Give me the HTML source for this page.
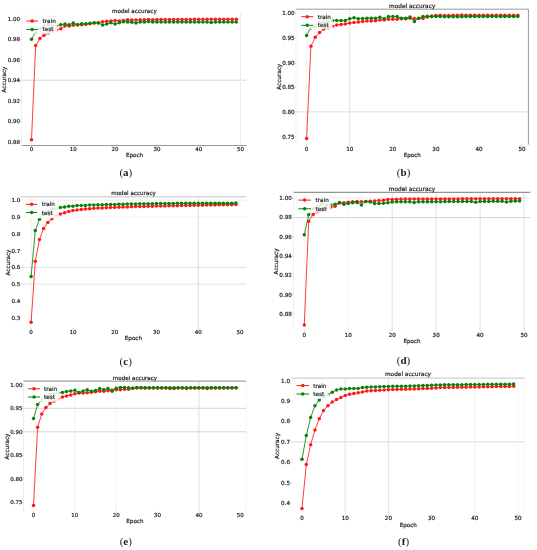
<!DOCTYPE html>
<html><head><meta charset="utf-8"><title>model accuracy</title>
<style>
html,body{margin:0;padding:0;background:#fff;}
body{width:537px;height:550px;overflow:hidden;}
svg{display:block;filter:blur(0.3px);}
.t{font-family:"DejaVu Sans","Liberation Sans",sans-serif;fill:#1c1c1c;stroke:#1c1c1c;stroke-width:0.2px;text-rendering:geometricPrecision;}
.c{font-family:"Liberation Serif",serif;fill:#1a1a1a;}
</style></head><body>
<svg width="537" height="550" viewBox="0 0 537 550">
<rect width="537" height="550" fill="#fff"/>
<line x1="21.60" y1="80.20" x2="246.60" y2="80.20" stroke="#d9d9d9" stroke-width="1.0"/>
<line x1="240.50" y1="13.20" x2="240.50" y2="145.50" stroke="#e6e6e6" stroke-width="0.8"/>
<line x1="21.60" y1="145.50" x2="246.60" y2="145.50" stroke="#9a9a9a" stroke-width="1.0"/>
<line x1="21.60" y1="13.20" x2="21.60" y2="145.50" stroke="#ececec" stroke-width="0.8"/>
<polyline points="31.50,139.65 35.68,45.45 39.86,38.58 44.04,35.20 48.22,33.05 52.40,31.00 56.58,29.98 60.76,28.64 64.94,25.98 69.12,25.88 73.30,25.36 77.48,24.85 81.66,24.85 85.84,24.34 90.02,23.83 94.20,23.11 98.38,22.80 102.56,21.67 106.74,21.37 110.92,21.06 115.10,20.44 119.28,20.95 123.46,20.44 127.64,19.83 131.82,20.03 136.00,20.03 140.18,19.83 144.36,19.83 148.54,19.52 152.72,19.83 156.90,19.62 161.08,19.42 165.26,19.41 169.44,19.41 173.62,19.40 177.80,19.39 181.98,19.39 186.16,19.38 190.34,19.38 194.52,19.37 198.70,19.37 202.88,19.36 207.06,19.35 211.24,19.35 215.42,19.34 219.60,19.34 223.78,19.33 227.96,19.33 232.14,19.32 236.32,19.32" fill="none" stroke="#ff1a1a" stroke-width="0.85"/>
<circle cx="31.50" cy="139.65" r="1.75" fill="#ff1a1a"/>
<circle cx="35.68" cy="45.45" r="1.75" fill="#ff1a1a"/>
<circle cx="39.86" cy="38.58" r="1.75" fill="#ff1a1a"/>
<circle cx="44.04" cy="35.20" r="1.75" fill="#ff1a1a"/>
<circle cx="48.22" cy="33.05" r="1.75" fill="#ff1a1a"/>
<circle cx="52.40" cy="31.00" r="1.75" fill="#ff1a1a"/>
<circle cx="56.58" cy="29.98" r="1.75" fill="#ff1a1a"/>
<circle cx="60.76" cy="28.64" r="1.75" fill="#ff1a1a"/>
<circle cx="64.94" cy="25.98" r="1.75" fill="#ff1a1a"/>
<circle cx="69.12" cy="25.88" r="1.75" fill="#ff1a1a"/>
<circle cx="73.30" cy="25.36" r="1.75" fill="#ff1a1a"/>
<circle cx="77.48" cy="24.85" r="1.75" fill="#ff1a1a"/>
<circle cx="81.66" cy="24.85" r="1.75" fill="#ff1a1a"/>
<circle cx="85.84" cy="24.34" r="1.75" fill="#ff1a1a"/>
<circle cx="90.02" cy="23.83" r="1.75" fill="#ff1a1a"/>
<circle cx="94.20" cy="23.11" r="1.75" fill="#ff1a1a"/>
<circle cx="98.38" cy="22.80" r="1.75" fill="#ff1a1a"/>
<circle cx="102.56" cy="21.67" r="1.75" fill="#ff1a1a"/>
<circle cx="106.74" cy="21.37" r="1.75" fill="#ff1a1a"/>
<circle cx="110.92" cy="21.06" r="1.75" fill="#ff1a1a"/>
<circle cx="115.10" cy="20.44" r="1.75" fill="#ff1a1a"/>
<circle cx="119.28" cy="20.95" r="1.75" fill="#ff1a1a"/>
<circle cx="123.46" cy="20.44" r="1.75" fill="#ff1a1a"/>
<circle cx="127.64" cy="19.83" r="1.75" fill="#ff1a1a"/>
<circle cx="131.82" cy="20.03" r="1.75" fill="#ff1a1a"/>
<circle cx="136.00" cy="20.03" r="1.75" fill="#ff1a1a"/>
<circle cx="140.18" cy="19.83" r="1.75" fill="#ff1a1a"/>
<circle cx="144.36" cy="19.83" r="1.75" fill="#ff1a1a"/>
<circle cx="148.54" cy="19.52" r="1.75" fill="#ff1a1a"/>
<circle cx="152.72" cy="19.83" r="1.75" fill="#ff1a1a"/>
<circle cx="156.90" cy="19.62" r="1.75" fill="#ff1a1a"/>
<circle cx="161.08" cy="19.42" r="1.75" fill="#ff1a1a"/>
<circle cx="165.26" cy="19.41" r="1.75" fill="#ff1a1a"/>
<circle cx="169.44" cy="19.41" r="1.75" fill="#ff1a1a"/>
<circle cx="173.62" cy="19.40" r="1.75" fill="#ff1a1a"/>
<circle cx="177.80" cy="19.39" r="1.75" fill="#ff1a1a"/>
<circle cx="181.98" cy="19.39" r="1.75" fill="#ff1a1a"/>
<circle cx="186.16" cy="19.38" r="1.75" fill="#ff1a1a"/>
<circle cx="190.34" cy="19.38" r="1.75" fill="#ff1a1a"/>
<circle cx="194.52" cy="19.37" r="1.75" fill="#ff1a1a"/>
<circle cx="198.70" cy="19.37" r="1.75" fill="#ff1a1a"/>
<circle cx="202.88" cy="19.36" r="1.75" fill="#ff1a1a"/>
<circle cx="207.06" cy="19.35" r="1.75" fill="#ff1a1a"/>
<circle cx="211.24" cy="19.35" r="1.75" fill="#ff1a1a"/>
<circle cx="215.42" cy="19.34" r="1.75" fill="#ff1a1a"/>
<circle cx="219.60" cy="19.34" r="1.75" fill="#ff1a1a"/>
<circle cx="223.78" cy="19.33" r="1.75" fill="#ff1a1a"/>
<circle cx="227.96" cy="19.33" r="1.75" fill="#ff1a1a"/>
<circle cx="232.14" cy="19.32" r="1.75" fill="#ff1a1a"/>
<circle cx="236.32" cy="19.32" r="1.75" fill="#ff1a1a"/>
<polyline points="31.50,39.20 35.68,32.23 39.86,28.95 44.04,25.67 48.22,24.95 52.40,25.36 56.58,25.88 60.76,24.85 64.94,24.03 69.12,24.65 73.30,23.11 77.48,24.65 81.66,23.83 85.84,23.83 90.02,23.31 94.20,22.80 98.38,23.00 102.56,24.95 106.74,24.03 110.92,22.70 115.10,24.03 119.28,22.70 123.46,21.67 127.64,21.88 131.82,22.18 136.00,23.11 140.18,21.88 144.36,21.88 148.54,21.57 152.72,21.88 156.90,21.88 161.08,21.89 165.26,21.89 169.44,21.90 173.62,21.91 177.80,21.92 181.98,21.93 186.16,21.94 190.34,21.95 194.52,21.95 198.70,21.96 202.88,21.97 207.06,21.98 211.24,22.60 215.42,21.98 219.60,21.98 223.78,21.98 227.96,21.98 232.14,21.98 236.32,21.98" fill="none" stroke="#0a800a" stroke-width="0.85"/>
<circle cx="31.50" cy="39.20" r="1.75" fill="#0a800a"/>
<circle cx="35.68" cy="32.23" r="1.75" fill="#0a800a"/>
<circle cx="39.86" cy="28.95" r="1.75" fill="#0a800a"/>
<circle cx="44.04" cy="25.67" r="1.75" fill="#0a800a"/>
<circle cx="48.22" cy="24.95" r="1.75" fill="#0a800a"/>
<circle cx="52.40" cy="25.36" r="1.75" fill="#0a800a"/>
<circle cx="56.58" cy="25.88" r="1.75" fill="#0a800a"/>
<circle cx="60.76" cy="24.85" r="1.75" fill="#0a800a"/>
<circle cx="64.94" cy="24.03" r="1.75" fill="#0a800a"/>
<circle cx="69.12" cy="24.65" r="1.75" fill="#0a800a"/>
<circle cx="73.30" cy="23.11" r="1.75" fill="#0a800a"/>
<circle cx="77.48" cy="24.65" r="1.75" fill="#0a800a"/>
<circle cx="81.66" cy="23.83" r="1.75" fill="#0a800a"/>
<circle cx="85.84" cy="23.83" r="1.75" fill="#0a800a"/>
<circle cx="90.02" cy="23.31" r="1.75" fill="#0a800a"/>
<circle cx="94.20" cy="22.80" r="1.75" fill="#0a800a"/>
<circle cx="98.38" cy="23.00" r="1.75" fill="#0a800a"/>
<circle cx="102.56" cy="24.95" r="1.75" fill="#0a800a"/>
<circle cx="106.74" cy="24.03" r="1.75" fill="#0a800a"/>
<circle cx="110.92" cy="22.70" r="1.75" fill="#0a800a"/>
<circle cx="115.10" cy="24.03" r="1.75" fill="#0a800a"/>
<circle cx="119.28" cy="22.70" r="1.75" fill="#0a800a"/>
<circle cx="123.46" cy="21.67" r="1.75" fill="#0a800a"/>
<circle cx="127.64" cy="21.88" r="1.75" fill="#0a800a"/>
<circle cx="131.82" cy="22.18" r="1.75" fill="#0a800a"/>
<circle cx="136.00" cy="23.11" r="1.75" fill="#0a800a"/>
<circle cx="140.18" cy="21.88" r="1.75" fill="#0a800a"/>
<circle cx="144.36" cy="21.88" r="1.75" fill="#0a800a"/>
<circle cx="148.54" cy="21.57" r="1.75" fill="#0a800a"/>
<circle cx="152.72" cy="21.88" r="1.75" fill="#0a800a"/>
<circle cx="156.90" cy="21.88" r="1.75" fill="#0a800a"/>
<circle cx="161.08" cy="21.89" r="1.75" fill="#0a800a"/>
<circle cx="165.26" cy="21.89" r="1.75" fill="#0a800a"/>
<circle cx="169.44" cy="21.90" r="1.75" fill="#0a800a"/>
<circle cx="173.62" cy="21.91" r="1.75" fill="#0a800a"/>
<circle cx="177.80" cy="21.92" r="1.75" fill="#0a800a"/>
<circle cx="181.98" cy="21.93" r="1.75" fill="#0a800a"/>
<circle cx="186.16" cy="21.94" r="1.75" fill="#0a800a"/>
<circle cx="190.34" cy="21.95" r="1.75" fill="#0a800a"/>
<circle cx="194.52" cy="21.95" r="1.75" fill="#0a800a"/>
<circle cx="198.70" cy="21.96" r="1.75" fill="#0a800a"/>
<circle cx="202.88" cy="21.97" r="1.75" fill="#0a800a"/>
<circle cx="207.06" cy="21.98" r="1.75" fill="#0a800a"/>
<circle cx="211.24" cy="22.60" r="1.75" fill="#0a800a"/>
<circle cx="215.42" cy="21.98" r="1.75" fill="#0a800a"/>
<circle cx="219.60" cy="21.98" r="1.75" fill="#0a800a"/>
<circle cx="223.78" cy="21.98" r="1.75" fill="#0a800a"/>
<circle cx="227.96" cy="21.98" r="1.75" fill="#0a800a"/>
<circle cx="232.14" cy="21.98" r="1.75" fill="#0a800a"/>
<circle cx="236.32" cy="21.98" r="1.75" fill="#0a800a"/>
<rect x="24.20" y="16.20" width="33.10" height="17.50" fill="#fff" fill-opacity="0.85" stroke="#f0f0f0" stroke-width="0.5" rx="1"/>
<line x1="26.30" y1="21.05" x2="38.00" y2="21.05" stroke="#ff1a1a" stroke-width="1.0"/>
<circle cx="32.15" cy="21.05" r="1.75" fill="#ff1a1a"/>
<text x="42.50" y="23.05" font-size="5.7" class="t">train</text>
<line x1="26.30" y1="29.40" x2="38.00" y2="29.40" stroke="#0a800a" stroke-width="1.0"/>
<circle cx="32.15" cy="29.40" r="1.75" fill="#0a800a"/>
<text x="42.50" y="31.40" font-size="5.7" class="t">test</text>
<line x1="20.30" y1="141.70" x2="21.60" y2="141.70" stroke="#b0b0b0" stroke-width="0.6"/>
<line x1="20.30" y1="121.20" x2="21.60" y2="121.20" stroke="#b0b0b0" stroke-width="0.6"/>
<line x1="20.30" y1="100.70" x2="21.60" y2="100.70" stroke="#b0b0b0" stroke-width="0.6"/>
<line x1="20.30" y1="80.20" x2="21.60" y2="80.20" stroke="#b0b0b0" stroke-width="0.6"/>
<line x1="20.30" y1="59.70" x2="21.60" y2="59.70" stroke="#b0b0b0" stroke-width="0.6"/>
<line x1="20.30" y1="39.20" x2="21.60" y2="39.20" stroke="#b0b0b0" stroke-width="0.6"/>
<line x1="20.30" y1="18.70" x2="21.60" y2="18.70" stroke="#b0b0b0" stroke-width="0.6"/>
<line x1="31.50" y1="145.50" x2="31.50" y2="146.80" stroke="#b0b0b0" stroke-width="0.6"/>
<line x1="73.30" y1="145.50" x2="73.30" y2="146.80" stroke="#b0b0b0" stroke-width="0.6"/>
<line x1="115.10" y1="145.50" x2="115.10" y2="146.80" stroke="#b0b0b0" stroke-width="0.6"/>
<line x1="156.90" y1="145.50" x2="156.90" y2="146.80" stroke="#b0b0b0" stroke-width="0.6"/>
<line x1="198.70" y1="145.50" x2="198.70" y2="146.80" stroke="#b0b0b0" stroke-width="0.6"/>
<line x1="240.50" y1="145.50" x2="240.50" y2="146.80" stroke="#b0b0b0" stroke-width="0.6"/>
<text x="20.00" y="143.68" font-size="5.5" text-anchor="end" class="t">0.88</text>
<text x="20.00" y="123.18" font-size="5.5" text-anchor="end" class="t">0.90</text>
<text x="20.00" y="102.68" font-size="5.5" text-anchor="end" class="t">0.92</text>
<text x="20.00" y="82.18" font-size="5.5" text-anchor="end" class="t">0.94</text>
<text x="20.00" y="61.68" font-size="5.5" text-anchor="end" class="t">0.96</text>
<text x="20.00" y="41.18" font-size="5.5" text-anchor="end" class="t">0.98</text>
<text x="20.00" y="20.68" font-size="5.5" text-anchor="end" class="t">1.00</text>
<text x="31.50" y="150.78" font-size="5.5" text-anchor="middle" class="t">0</text>
<text x="73.30" y="150.78" font-size="5.5" text-anchor="middle" class="t">10</text>
<text x="115.10" y="150.78" font-size="5.5" text-anchor="middle" class="t">20</text>
<text x="156.90" y="150.78" font-size="5.5" text-anchor="middle" class="t">30</text>
<text x="198.70" y="150.78" font-size="5.5" text-anchor="middle" class="t">40</text>
<text x="240.50" y="150.78" font-size="5.5" text-anchor="middle" class="t">50</text>
<text x="134.40" y="13.00" font-size="5.63" text-anchor="middle" class="t">model accuracy</text>
<text x="134.50" y="156.50" font-size="5.6" text-anchor="middle" class="t">Epoch</text>
<text x="0" y="0" font-size="5.7" text-anchor="middle" class="t" transform="translate(6.30,79.50) rotate(-90)">Accuracy</text>
<text x="125.80" y="176.00" font-size="11" text-anchor="middle" class="c">(<tspan font-weight="bold">a</tspan>)</text>
<line x1="296.00" y1="111.88" x2="528.40" y2="111.88" stroke="#dedede" stroke-width="1.0"/>
<line x1="349.70" y1="9.20" x2="349.70" y2="144.60" stroke="#e3e3e3" stroke-width="1.0"/>
<line x1="306.60" y1="9.20" x2="306.60" y2="144.60" stroke="#f3f3f3" stroke-width="0.8"/>
<line x1="296.00" y1="9.20" x2="528.40" y2="9.20" stroke="#9a9a9a" stroke-width="1.0"/>
<line x1="528.40" y1="9.20" x2="528.40" y2="144.60" stroke="#9a9a9a" stroke-width="1.0"/>
<line x1="296.00" y1="9.20" x2="296.00" y2="144.60" stroke="#f0f0f0" stroke-width="0.8"/>
<polyline points="306.60,138.47 310.91,46.19 315.22,37.28 319.53,32.60 323.84,28.91 328.15,27.68 332.46,26.30 336.77,25.02 341.08,24.53 345.39,23.89 349.70,23.00 354.01,22.61 358.32,22.12 362.63,21.43 366.94,21.03 371.25,21.03 375.56,20.69 379.87,19.90 384.18,19.90 388.49,19.21 392.80,19.21 397.11,19.21 401.42,18.72 405.73,18.72 410.04,18.13 414.35,18.42 418.66,18.62 422.97,18.42 427.28,16.99 431.59,16.11 435.90,15.62 440.21,15.37 444.52,15.42 448.83,15.47 453.14,15.37 457.45,15.27 461.76,15.12 466.07,15.18 470.38,15.25 474.69,15.31 479.00,15.37 483.31,15.34 487.62,15.32 491.93,15.30 496.24,15.27 500.55,15.29 504.86,15.31 509.17,15.33 513.48,15.35 517.79,15.37" fill="none" stroke="#ff1a1a" stroke-width="0.85"/>
<circle cx="306.60" cy="138.47" r="1.75" fill="#ff1a1a"/>
<circle cx="310.91" cy="46.19" r="1.75" fill="#ff1a1a"/>
<circle cx="315.22" cy="37.28" r="1.75" fill="#ff1a1a"/>
<circle cx="319.53" cy="32.60" r="1.75" fill="#ff1a1a"/>
<circle cx="323.84" cy="28.91" r="1.75" fill="#ff1a1a"/>
<circle cx="328.15" cy="27.68" r="1.75" fill="#ff1a1a"/>
<circle cx="332.46" cy="26.30" r="1.75" fill="#ff1a1a"/>
<circle cx="336.77" cy="25.02" r="1.75" fill="#ff1a1a"/>
<circle cx="341.08" cy="24.53" r="1.75" fill="#ff1a1a"/>
<circle cx="345.39" cy="23.89" r="1.75" fill="#ff1a1a"/>
<circle cx="349.70" cy="23.00" r="1.75" fill="#ff1a1a"/>
<circle cx="354.01" cy="22.61" r="1.75" fill="#ff1a1a"/>
<circle cx="358.32" cy="22.12" r="1.75" fill="#ff1a1a"/>
<circle cx="362.63" cy="21.43" r="1.75" fill="#ff1a1a"/>
<circle cx="366.94" cy="21.03" r="1.75" fill="#ff1a1a"/>
<circle cx="371.25" cy="21.03" r="1.75" fill="#ff1a1a"/>
<circle cx="375.56" cy="20.69" r="1.75" fill="#ff1a1a"/>
<circle cx="379.87" cy="19.90" r="1.75" fill="#ff1a1a"/>
<circle cx="384.18" cy="19.90" r="1.75" fill="#ff1a1a"/>
<circle cx="388.49" cy="19.21" r="1.75" fill="#ff1a1a"/>
<circle cx="392.80" cy="19.21" r="1.75" fill="#ff1a1a"/>
<circle cx="397.11" cy="19.21" r="1.75" fill="#ff1a1a"/>
<circle cx="401.42" cy="18.72" r="1.75" fill="#ff1a1a"/>
<circle cx="405.73" cy="18.72" r="1.75" fill="#ff1a1a"/>
<circle cx="410.04" cy="18.13" r="1.75" fill="#ff1a1a"/>
<circle cx="414.35" cy="18.42" r="1.75" fill="#ff1a1a"/>
<circle cx="418.66" cy="18.62" r="1.75" fill="#ff1a1a"/>
<circle cx="422.97" cy="18.42" r="1.75" fill="#ff1a1a"/>
<circle cx="427.28" cy="16.99" r="1.75" fill="#ff1a1a"/>
<circle cx="431.59" cy="16.11" r="1.75" fill="#ff1a1a"/>
<circle cx="435.90" cy="15.62" r="1.75" fill="#ff1a1a"/>
<circle cx="440.21" cy="15.37" r="1.75" fill="#ff1a1a"/>
<circle cx="444.52" cy="15.42" r="1.75" fill="#ff1a1a"/>
<circle cx="448.83" cy="15.47" r="1.75" fill="#ff1a1a"/>
<circle cx="453.14" cy="15.37" r="1.75" fill="#ff1a1a"/>
<circle cx="457.45" cy="15.27" r="1.75" fill="#ff1a1a"/>
<circle cx="461.76" cy="15.12" r="1.75" fill="#ff1a1a"/>
<circle cx="466.07" cy="15.18" r="1.75" fill="#ff1a1a"/>
<circle cx="470.38" cy="15.25" r="1.75" fill="#ff1a1a"/>
<circle cx="474.69" cy="15.31" r="1.75" fill="#ff1a1a"/>
<circle cx="479.00" cy="15.37" r="1.75" fill="#ff1a1a"/>
<circle cx="483.31" cy="15.34" r="1.75" fill="#ff1a1a"/>
<circle cx="487.62" cy="15.32" r="1.75" fill="#ff1a1a"/>
<circle cx="491.93" cy="15.30" r="1.75" fill="#ff1a1a"/>
<circle cx="496.24" cy="15.27" r="1.75" fill="#ff1a1a"/>
<circle cx="500.55" cy="15.29" r="1.75" fill="#ff1a1a"/>
<circle cx="504.86" cy="15.31" r="1.75" fill="#ff1a1a"/>
<circle cx="509.17" cy="15.33" r="1.75" fill="#ff1a1a"/>
<circle cx="513.48" cy="15.35" r="1.75" fill="#ff1a1a"/>
<circle cx="517.79" cy="15.37" r="1.75" fill="#ff1a1a"/>
<polyline points="306.60,35.41 310.91,27.68 315.22,26.20 319.53,23.00 323.84,22.26 328.15,21.43 332.46,20.59 336.77,20.59 341.08,20.59 345.39,20.59 349.70,18.72 354.01,17.83 358.32,18.72 362.63,18.52 366.94,18.13 371.25,18.13 375.56,18.13 379.87,17.19 384.18,18.72 388.49,16.60 392.80,16.60 397.11,16.60 401.42,18.13 405.73,18.13 410.04,16.90 414.35,21.38 418.66,18.13 422.97,16.60 427.28,16.21 431.59,16.60 435.90,16.60 440.21,16.60 444.52,16.64 448.83,16.67 453.14,16.71 457.45,16.75 461.76,16.85 466.07,16.60 470.38,16.60 474.69,16.60 479.00,16.60 483.31,16.60 487.62,16.60 491.93,16.60 496.24,16.60 500.55,16.60 504.86,16.60 509.17,16.60 513.48,16.60 517.79,16.60" fill="none" stroke="#0a800a" stroke-width="0.85"/>
<circle cx="306.60" cy="35.41" r="1.75" fill="#0a800a"/>
<circle cx="310.91" cy="27.68" r="1.75" fill="#0a800a"/>
<circle cx="315.22" cy="26.20" r="1.75" fill="#0a800a"/>
<circle cx="319.53" cy="23.00" r="1.75" fill="#0a800a"/>
<circle cx="323.84" cy="22.26" r="1.75" fill="#0a800a"/>
<circle cx="328.15" cy="21.43" r="1.75" fill="#0a800a"/>
<circle cx="332.46" cy="20.59" r="1.75" fill="#0a800a"/>
<circle cx="336.77" cy="20.59" r="1.75" fill="#0a800a"/>
<circle cx="341.08" cy="20.59" r="1.75" fill="#0a800a"/>
<circle cx="345.39" cy="20.59" r="1.75" fill="#0a800a"/>
<circle cx="349.70" cy="18.72" r="1.75" fill="#0a800a"/>
<circle cx="354.01" cy="17.83" r="1.75" fill="#0a800a"/>
<circle cx="358.32" cy="18.72" r="1.75" fill="#0a800a"/>
<circle cx="362.63" cy="18.52" r="1.75" fill="#0a800a"/>
<circle cx="366.94" cy="18.13" r="1.75" fill="#0a800a"/>
<circle cx="371.25" cy="18.13" r="1.75" fill="#0a800a"/>
<circle cx="375.56" cy="18.13" r="1.75" fill="#0a800a"/>
<circle cx="379.87" cy="17.19" r="1.75" fill="#0a800a"/>
<circle cx="384.18" cy="18.72" r="1.75" fill="#0a800a"/>
<circle cx="388.49" cy="16.60" r="1.75" fill="#0a800a"/>
<circle cx="392.80" cy="16.60" r="1.75" fill="#0a800a"/>
<circle cx="397.11" cy="16.60" r="1.75" fill="#0a800a"/>
<circle cx="401.42" cy="18.13" r="1.75" fill="#0a800a"/>
<circle cx="405.73" cy="18.13" r="1.75" fill="#0a800a"/>
<circle cx="410.04" cy="16.90" r="1.75" fill="#0a800a"/>
<circle cx="414.35" cy="21.38" r="1.75" fill="#0a800a"/>
<circle cx="418.66" cy="18.13" r="1.75" fill="#0a800a"/>
<circle cx="422.97" cy="16.60" r="1.75" fill="#0a800a"/>
<circle cx="427.28" cy="16.21" r="1.75" fill="#0a800a"/>
<circle cx="431.59" cy="16.60" r="1.75" fill="#0a800a"/>
<circle cx="435.90" cy="16.60" r="1.75" fill="#0a800a"/>
<circle cx="440.21" cy="16.60" r="1.75" fill="#0a800a"/>
<circle cx="444.52" cy="16.64" r="1.75" fill="#0a800a"/>
<circle cx="448.83" cy="16.67" r="1.75" fill="#0a800a"/>
<circle cx="453.14" cy="16.71" r="1.75" fill="#0a800a"/>
<circle cx="457.45" cy="16.75" r="1.75" fill="#0a800a"/>
<circle cx="461.76" cy="16.85" r="1.75" fill="#0a800a"/>
<circle cx="466.07" cy="16.60" r="1.75" fill="#0a800a"/>
<circle cx="470.38" cy="16.60" r="1.75" fill="#0a800a"/>
<circle cx="474.69" cy="16.60" r="1.75" fill="#0a800a"/>
<circle cx="479.00" cy="16.60" r="1.75" fill="#0a800a"/>
<circle cx="483.31" cy="16.60" r="1.75" fill="#0a800a"/>
<circle cx="487.62" cy="16.60" r="1.75" fill="#0a800a"/>
<circle cx="491.93" cy="16.60" r="1.75" fill="#0a800a"/>
<circle cx="496.24" cy="16.60" r="1.75" fill="#0a800a"/>
<circle cx="500.55" cy="16.60" r="1.75" fill="#0a800a"/>
<circle cx="504.86" cy="16.60" r="1.75" fill="#0a800a"/>
<circle cx="509.17" cy="16.60" r="1.75" fill="#0a800a"/>
<circle cx="513.48" cy="16.60" r="1.75" fill="#0a800a"/>
<circle cx="517.79" cy="16.60" r="1.75" fill="#0a800a"/>
<rect x="299.00" y="11.20" width="33.50" height="17.50" fill="#fff" fill-opacity="0.85" stroke="#f0f0f0" stroke-width="0.5" rx="1"/>
<line x1="301.30" y1="16.70" x2="313.20" y2="16.70" stroke="#ff1a1a" stroke-width="1.0"/>
<circle cx="307.25" cy="16.70" r="1.75" fill="#ff1a1a"/>
<text x="317.70" y="18.70" font-size="5.7" class="t">train</text>
<line x1="301.30" y1="25.30" x2="313.20" y2="25.30" stroke="#0a800a" stroke-width="1.0"/>
<circle cx="307.25" cy="25.30" r="1.75" fill="#0a800a"/>
<text x="317.70" y="27.30" font-size="5.7" class="t">test</text>
<line x1="294.70" y1="136.50" x2="296.00" y2="136.50" stroke="#b0b0b0" stroke-width="0.6"/>
<line x1="294.70" y1="111.88" x2="296.00" y2="111.88" stroke="#b0b0b0" stroke-width="0.6"/>
<line x1="294.70" y1="87.26" x2="296.00" y2="87.26" stroke="#b0b0b0" stroke-width="0.6"/>
<line x1="294.70" y1="62.64" x2="296.00" y2="62.64" stroke="#b0b0b0" stroke-width="0.6"/>
<line x1="294.70" y1="38.02" x2="296.00" y2="38.02" stroke="#b0b0b0" stroke-width="0.6"/>
<line x1="294.70" y1="13.40" x2="296.00" y2="13.40" stroke="#b0b0b0" stroke-width="0.6"/>
<line x1="306.60" y1="144.60" x2="306.60" y2="145.90" stroke="#b0b0b0" stroke-width="0.6"/>
<line x1="349.70" y1="144.60" x2="349.70" y2="145.90" stroke="#b0b0b0" stroke-width="0.6"/>
<line x1="392.80" y1="144.60" x2="392.80" y2="145.90" stroke="#b0b0b0" stroke-width="0.6"/>
<line x1="435.90" y1="144.60" x2="435.90" y2="145.90" stroke="#b0b0b0" stroke-width="0.6"/>
<line x1="479.00" y1="144.60" x2="479.00" y2="145.90" stroke="#b0b0b0" stroke-width="0.6"/>
<line x1="522.10" y1="144.60" x2="522.10" y2="145.90" stroke="#b0b0b0" stroke-width="0.6"/>
<text x="294.70" y="138.52" font-size="5.6" text-anchor="end" class="t">0.75</text>
<text x="294.70" y="113.90" font-size="5.6" text-anchor="end" class="t">0.80</text>
<text x="294.70" y="89.28" font-size="5.6" text-anchor="end" class="t">0.85</text>
<text x="294.70" y="64.66" font-size="5.6" text-anchor="end" class="t">0.90</text>
<text x="294.70" y="40.04" font-size="5.6" text-anchor="end" class="t">0.95</text>
<text x="294.70" y="15.42" font-size="5.6" text-anchor="end" class="t">1.00</text>
<text x="306.60" y="150.62" font-size="5.6" text-anchor="middle" class="t">0</text>
<text x="349.70" y="150.62" font-size="5.6" text-anchor="middle" class="t">10</text>
<text x="392.80" y="150.62" font-size="5.6" text-anchor="middle" class="t">20</text>
<text x="435.90" y="150.62" font-size="5.6" text-anchor="middle" class="t">30</text>
<text x="479.00" y="150.62" font-size="5.6" text-anchor="middle" class="t">40</text>
<text x="522.10" y="150.62" font-size="5.6" text-anchor="middle" class="t">50</text>
<text x="412.20" y="7.70" font-size="5.83" text-anchor="middle" class="t">model accuracy</text>
<text x="412.20" y="156.50" font-size="5.6" text-anchor="middle" class="t">Epoch</text>
<text x="0" y="0" font-size="5.7" text-anchor="middle" class="t" transform="translate(280.50,76.80) rotate(-90)">Accuracy</text>
<text x="403.60" y="176.00" font-size="11" text-anchor="middle" class="c">(<tspan font-weight="bold">b</tspan>)</text>
<line x1="20.90" y1="200.20" x2="246.00" y2="200.20" stroke="#ececec" stroke-width="0.8"/>
<line x1="20.90" y1="217.00" x2="246.00" y2="217.00" stroke="#efefef" stroke-width="0.8"/>
<line x1="20.90" y1="267.40" x2="246.00" y2="267.40" stroke="#e3e3e3" stroke-width="1.0"/>
<line x1="20.90" y1="284.20" x2="246.00" y2="284.20" stroke="#e3e3e3" stroke-width="1.0"/>
<line x1="31.10" y1="196.80" x2="31.10" y2="328.20" stroke="#ebebeb" stroke-width="0.8"/>
<line x1="198.30" y1="196.80" x2="198.30" y2="328.20" stroke="#dcdcdc" stroke-width="1.0"/>
<line x1="20.90" y1="196.80" x2="246.00" y2="196.80" stroke="#d6d6d6" stroke-width="1.6"/>
<polyline points="31.10,322.34 35.28,261.35 39.46,239.51 43.64,228.59 47.82,222.38 52.00,218.85 56.18,215.82 60.36,213.98 64.54,212.70 68.72,211.46 72.90,210.62 77.08,210.11 81.26,209.44 85.44,209.00 89.62,208.77 93.80,208.26 97.98,208.10 102.16,207.93 106.34,207.76 110.52,207.59 114.70,207.42 118.88,207.26 123.06,207.09 127.24,206.92 131.42,206.75 135.60,206.58 139.78,206.49 143.96,206.40 148.14,206.30 152.32,206.21 156.50,206.12 160.68,206.02 164.86,205.93 169.04,205.84 173.22,205.74 177.40,205.66 181.58,205.58 185.76,205.49 189.94,205.41 194.12,205.32 198.30,205.24 202.48,205.17 206.66,205.09 210.84,205.02 215.02,204.94 219.20,204.87 223.38,204.79 227.56,204.72 231.74,204.64 235.92,204.57" fill="none" stroke="#ff1a1a" stroke-width="0.85"/>
<circle cx="31.10" cy="322.34" r="1.75" fill="#ff1a1a"/>
<circle cx="35.28" cy="261.35" r="1.75" fill="#ff1a1a"/>
<circle cx="39.46" cy="239.51" r="1.75" fill="#ff1a1a"/>
<circle cx="43.64" cy="228.59" r="1.75" fill="#ff1a1a"/>
<circle cx="47.82" cy="222.38" r="1.75" fill="#ff1a1a"/>
<circle cx="52.00" cy="218.85" r="1.75" fill="#ff1a1a"/>
<circle cx="56.18" cy="215.82" r="1.75" fill="#ff1a1a"/>
<circle cx="60.36" cy="213.98" r="1.75" fill="#ff1a1a"/>
<circle cx="64.54" cy="212.70" r="1.75" fill="#ff1a1a"/>
<circle cx="68.72" cy="211.46" r="1.75" fill="#ff1a1a"/>
<circle cx="72.90" cy="210.62" r="1.75" fill="#ff1a1a"/>
<circle cx="77.08" cy="210.11" r="1.75" fill="#ff1a1a"/>
<circle cx="81.26" cy="209.44" r="1.75" fill="#ff1a1a"/>
<circle cx="85.44" cy="209.00" r="1.75" fill="#ff1a1a"/>
<circle cx="89.62" cy="208.77" r="1.75" fill="#ff1a1a"/>
<circle cx="93.80" cy="208.26" r="1.75" fill="#ff1a1a"/>
<circle cx="97.98" cy="208.10" r="1.75" fill="#ff1a1a"/>
<circle cx="102.16" cy="207.93" r="1.75" fill="#ff1a1a"/>
<circle cx="106.34" cy="207.76" r="1.75" fill="#ff1a1a"/>
<circle cx="110.52" cy="207.59" r="1.75" fill="#ff1a1a"/>
<circle cx="114.70" cy="207.42" r="1.75" fill="#ff1a1a"/>
<circle cx="118.88" cy="207.26" r="1.75" fill="#ff1a1a"/>
<circle cx="123.06" cy="207.09" r="1.75" fill="#ff1a1a"/>
<circle cx="127.24" cy="206.92" r="1.75" fill="#ff1a1a"/>
<circle cx="131.42" cy="206.75" r="1.75" fill="#ff1a1a"/>
<circle cx="135.60" cy="206.58" r="1.75" fill="#ff1a1a"/>
<circle cx="139.78" cy="206.49" r="1.75" fill="#ff1a1a"/>
<circle cx="143.96" cy="206.40" r="1.75" fill="#ff1a1a"/>
<circle cx="148.14" cy="206.30" r="1.75" fill="#ff1a1a"/>
<circle cx="152.32" cy="206.21" r="1.75" fill="#ff1a1a"/>
<circle cx="156.50" cy="206.12" r="1.75" fill="#ff1a1a"/>
<circle cx="160.68" cy="206.02" r="1.75" fill="#ff1a1a"/>
<circle cx="164.86" cy="205.93" r="1.75" fill="#ff1a1a"/>
<circle cx="169.04" cy="205.84" r="1.75" fill="#ff1a1a"/>
<circle cx="173.22" cy="205.74" r="1.75" fill="#ff1a1a"/>
<circle cx="177.40" cy="205.66" r="1.75" fill="#ff1a1a"/>
<circle cx="181.58" cy="205.58" r="1.75" fill="#ff1a1a"/>
<circle cx="185.76" cy="205.49" r="1.75" fill="#ff1a1a"/>
<circle cx="189.94" cy="205.41" r="1.75" fill="#ff1a1a"/>
<circle cx="194.12" cy="205.32" r="1.75" fill="#ff1a1a"/>
<circle cx="198.30" cy="205.24" r="1.75" fill="#ff1a1a"/>
<circle cx="202.48" cy="205.17" r="1.75" fill="#ff1a1a"/>
<circle cx="206.66" cy="205.09" r="1.75" fill="#ff1a1a"/>
<circle cx="210.84" cy="205.02" r="1.75" fill="#ff1a1a"/>
<circle cx="215.02" cy="204.94" r="1.75" fill="#ff1a1a"/>
<circle cx="219.20" cy="204.87" r="1.75" fill="#ff1a1a"/>
<circle cx="223.38" cy="204.79" r="1.75" fill="#ff1a1a"/>
<circle cx="227.56" cy="204.72" r="1.75" fill="#ff1a1a"/>
<circle cx="231.74" cy="204.64" r="1.75" fill="#ff1a1a"/>
<circle cx="235.92" cy="204.57" r="1.75" fill="#ff1a1a"/>
<polyline points="31.10,276.47 35.28,230.51 39.46,219.18 43.64,214.31 47.82,210.95 52.00,208.94 56.18,208.43 60.36,207.51 64.54,207.09 68.72,206.25 72.90,206.25 77.08,205.41 81.26,205.41 85.44,205.41 89.62,204.90 93.80,204.90 97.98,204.80 102.16,204.70 106.34,204.60 110.52,204.50 114.70,204.40 118.88,204.30 123.06,204.20 127.24,204.10 131.42,204.00 135.60,203.90 139.78,203.84 143.96,203.78 148.14,203.73 152.32,203.67 156.50,203.62 160.68,203.56 164.86,203.50 169.04,203.45 173.22,203.39 177.40,203.37 181.58,203.35 185.76,203.33 189.94,203.32 194.12,203.30 198.30,203.28 202.48,203.26 206.66,203.24 210.84,203.22 215.02,203.20 219.20,203.18 223.38,203.16 227.56,203.14 231.74,203.13 235.92,203.11" fill="none" stroke="#0a800a" stroke-width="0.85"/>
<circle cx="31.10" cy="276.47" r="1.75" fill="#0a800a"/>
<circle cx="35.28" cy="230.51" r="1.75" fill="#0a800a"/>
<circle cx="39.46" cy="219.18" r="1.75" fill="#0a800a"/>
<circle cx="43.64" cy="214.31" r="1.75" fill="#0a800a"/>
<circle cx="47.82" cy="210.95" r="1.75" fill="#0a800a"/>
<circle cx="52.00" cy="208.94" r="1.75" fill="#0a800a"/>
<circle cx="56.18" cy="208.43" r="1.75" fill="#0a800a"/>
<circle cx="60.36" cy="207.51" r="1.75" fill="#0a800a"/>
<circle cx="64.54" cy="207.09" r="1.75" fill="#0a800a"/>
<circle cx="68.72" cy="206.25" r="1.75" fill="#0a800a"/>
<circle cx="72.90" cy="206.25" r="1.75" fill="#0a800a"/>
<circle cx="77.08" cy="205.41" r="1.75" fill="#0a800a"/>
<circle cx="81.26" cy="205.41" r="1.75" fill="#0a800a"/>
<circle cx="85.44" cy="205.41" r="1.75" fill="#0a800a"/>
<circle cx="89.62" cy="204.90" r="1.75" fill="#0a800a"/>
<circle cx="93.80" cy="204.90" r="1.75" fill="#0a800a"/>
<circle cx="97.98" cy="204.80" r="1.75" fill="#0a800a"/>
<circle cx="102.16" cy="204.70" r="1.75" fill="#0a800a"/>
<circle cx="106.34" cy="204.60" r="1.75" fill="#0a800a"/>
<circle cx="110.52" cy="204.50" r="1.75" fill="#0a800a"/>
<circle cx="114.70" cy="204.40" r="1.75" fill="#0a800a"/>
<circle cx="118.88" cy="204.30" r="1.75" fill="#0a800a"/>
<circle cx="123.06" cy="204.20" r="1.75" fill="#0a800a"/>
<circle cx="127.24" cy="204.10" r="1.75" fill="#0a800a"/>
<circle cx="131.42" cy="204.00" r="1.75" fill="#0a800a"/>
<circle cx="135.60" cy="203.90" r="1.75" fill="#0a800a"/>
<circle cx="139.78" cy="203.84" r="1.75" fill="#0a800a"/>
<circle cx="143.96" cy="203.78" r="1.75" fill="#0a800a"/>
<circle cx="148.14" cy="203.73" r="1.75" fill="#0a800a"/>
<circle cx="152.32" cy="203.67" r="1.75" fill="#0a800a"/>
<circle cx="156.50" cy="203.62" r="1.75" fill="#0a800a"/>
<circle cx="160.68" cy="203.56" r="1.75" fill="#0a800a"/>
<circle cx="164.86" cy="203.50" r="1.75" fill="#0a800a"/>
<circle cx="169.04" cy="203.45" r="1.75" fill="#0a800a"/>
<circle cx="173.22" cy="203.39" r="1.75" fill="#0a800a"/>
<circle cx="177.40" cy="203.37" r="1.75" fill="#0a800a"/>
<circle cx="181.58" cy="203.35" r="1.75" fill="#0a800a"/>
<circle cx="185.76" cy="203.33" r="1.75" fill="#0a800a"/>
<circle cx="189.94" cy="203.32" r="1.75" fill="#0a800a"/>
<circle cx="194.12" cy="203.30" r="1.75" fill="#0a800a"/>
<circle cx="198.30" cy="203.28" r="1.75" fill="#0a800a"/>
<circle cx="202.48" cy="203.26" r="1.75" fill="#0a800a"/>
<circle cx="206.66" cy="203.24" r="1.75" fill="#0a800a"/>
<circle cx="210.84" cy="203.22" r="1.75" fill="#0a800a"/>
<circle cx="215.02" cy="203.20" r="1.75" fill="#0a800a"/>
<circle cx="219.20" cy="203.18" r="1.75" fill="#0a800a"/>
<circle cx="223.38" cy="203.16" r="1.75" fill="#0a800a"/>
<circle cx="227.56" cy="203.14" r="1.75" fill="#0a800a"/>
<circle cx="231.74" cy="203.13" r="1.75" fill="#0a800a"/>
<circle cx="235.92" cy="203.11" r="1.75" fill="#0a800a"/>
<rect x="25.30" y="200.60" width="33.00" height="17.50" fill="#fff" fill-opacity="0.85" stroke="#f0f0f0" stroke-width="0.5" rx="1"/>
<line x1="26.00" y1="204.30" x2="37.30" y2="204.30" stroke="#ff1a1a" stroke-width="1.0"/>
<circle cx="31.65" cy="204.30" r="1.75" fill="#ff1a1a"/>
<text x="41.70" y="206.30" font-size="5.7" class="t">train</text>
<line x1="26.00" y1="212.50" x2="37.30" y2="212.50" stroke="#0a800a" stroke-width="1.0"/>
<circle cx="31.65" cy="212.50" r="1.75" fill="#0a800a"/>
<text x="41.70" y="214.50" font-size="5.7" class="t">test</text>
<line x1="19.60" y1="317.80" x2="20.90" y2="317.80" stroke="#b0b0b0" stroke-width="0.6"/>
<line x1="19.60" y1="301.00" x2="20.90" y2="301.00" stroke="#b0b0b0" stroke-width="0.6"/>
<line x1="19.60" y1="284.20" x2="20.90" y2="284.20" stroke="#b0b0b0" stroke-width="0.6"/>
<line x1="19.60" y1="267.40" x2="20.90" y2="267.40" stroke="#b0b0b0" stroke-width="0.6"/>
<line x1="19.60" y1="250.60" x2="20.90" y2="250.60" stroke="#b0b0b0" stroke-width="0.6"/>
<line x1="19.60" y1="233.80" x2="20.90" y2="233.80" stroke="#b0b0b0" stroke-width="0.6"/>
<line x1="19.60" y1="217.00" x2="20.90" y2="217.00" stroke="#b0b0b0" stroke-width="0.6"/>
<line x1="19.60" y1="200.20" x2="20.90" y2="200.20" stroke="#b0b0b0" stroke-width="0.6"/>
<line x1="31.10" y1="328.20" x2="31.10" y2="329.50" stroke="#b0b0b0" stroke-width="0.6"/>
<line x1="72.90" y1="328.20" x2="72.90" y2="329.50" stroke="#b0b0b0" stroke-width="0.6"/>
<line x1="114.70" y1="328.20" x2="114.70" y2="329.50" stroke="#b0b0b0" stroke-width="0.6"/>
<line x1="156.50" y1="328.20" x2="156.50" y2="329.50" stroke="#b0b0b0" stroke-width="0.6"/>
<line x1="198.30" y1="328.20" x2="198.30" y2="329.50" stroke="#b0b0b0" stroke-width="0.6"/>
<line x1="240.10" y1="328.20" x2="240.10" y2="329.50" stroke="#b0b0b0" stroke-width="0.6"/>
<text x="20.20" y="319.78" font-size="5.5" text-anchor="end" class="t">0.3</text>
<text x="20.20" y="302.98" font-size="5.5" text-anchor="end" class="t">0.4</text>
<text x="20.20" y="286.18" font-size="5.5" text-anchor="end" class="t">0.5</text>
<text x="20.20" y="269.38" font-size="5.5" text-anchor="end" class="t">0.6</text>
<text x="20.20" y="252.58" font-size="5.5" text-anchor="end" class="t">0.7</text>
<text x="20.20" y="235.78" font-size="5.5" text-anchor="end" class="t">0.8</text>
<text x="20.20" y="218.98" font-size="5.5" text-anchor="end" class="t">0.9</text>
<text x="20.20" y="202.18" font-size="5.5" text-anchor="end" class="t">1.0</text>
<text x="31.10" y="333.68" font-size="5.5" text-anchor="middle" class="t">0</text>
<text x="72.90" y="333.68" font-size="5.5" text-anchor="middle" class="t">10</text>
<text x="114.70" y="333.68" font-size="5.5" text-anchor="middle" class="t">20</text>
<text x="156.50" y="333.68" font-size="5.5" text-anchor="middle" class="t">30</text>
<text x="198.30" y="333.68" font-size="5.5" text-anchor="middle" class="t">40</text>
<text x="240.10" y="333.68" font-size="5.5" text-anchor="middle" class="t">50</text>
<text x="133.50" y="195.40" font-size="5.63" text-anchor="middle" class="t">model accuracy</text>
<text x="133.40" y="339.60" font-size="5.6" text-anchor="middle" class="t">Epoch</text>
<text x="0" y="0" font-size="5.7" text-anchor="middle" class="t" transform="translate(10.00,262.50) rotate(-90)">Accuracy</text>
<text x="125.70" y="364.60" font-size="11" text-anchor="middle" class="c">(<tspan font-weight="bold">c</tspan>)</text>
<line x1="293.50" y1="198.20" x2="530.40" y2="198.20" stroke="#e8e8e8" stroke-width="0.8"/>
<line x1="293.50" y1="217.47" x2="530.40" y2="217.47" stroke="#d4d4d4" stroke-width="1.0"/>
<line x1="304.30" y1="192.30" x2="304.30" y2="330.00" stroke="#f2f2f2" stroke-width="0.8"/>
<line x1="348.25" y1="192.30" x2="348.25" y2="330.00" stroke="#f2f2f2" stroke-width="0.8"/>
<line x1="392.20" y1="192.30" x2="392.20" y2="330.00" stroke="#e0e0e0" stroke-width="1.0"/>
<line x1="436.15" y1="192.30" x2="436.15" y2="330.00" stroke="#e0e0e0" stroke-width="1.0"/>
<line x1="480.10" y1="192.30" x2="480.10" y2="330.00" stroke="#e0e0e0" stroke-width="1.0"/>
<line x1="524.05" y1="192.30" x2="524.05" y2="330.00" stroke="#e0e0e0" stroke-width="1.0"/>
<line x1="293.50" y1="192.30" x2="530.40" y2="192.30" stroke="#7a7a7a" stroke-width="1.0"/>
<line x1="293.50" y1="192.30" x2="293.50" y2="330.00" stroke="#eeeeee" stroke-width="0.8"/>
<polyline points="304.30,324.90 308.69,221.32 313.09,214.39 317.49,211.69 321.88,209.76 326.28,208.32 330.67,207.35 335.06,206.29 339.46,203.11 343.86,202.73 348.25,202.25 352.64,201.76 357.04,201.38 361.44,201.76 365.83,201.38 370.23,201.28 374.62,200.90 379.01,200.61 383.41,200.22 387.81,199.45 392.20,199.45 396.60,199.16 400.99,199.07 405.38,199.05 409.78,199.04 414.18,199.02 418.57,199.01 422.97,199.00 427.36,198.98 431.75,198.97 436.15,198.95 440.54,198.94 444.94,198.92 449.34,198.91 453.73,198.90 458.12,198.88 462.52,198.87 466.91,198.85 471.31,198.84 475.70,198.82 480.10,198.81 484.50,198.80 488.89,198.78 493.28,198.77 497.68,198.75 502.07,198.74 506.47,198.72 510.87,198.71 515.26,198.70 519.65,198.68" fill="none" stroke="#ff1a1a" stroke-width="0.85"/>
<circle cx="304.30" cy="324.90" r="1.75" fill="#ff1a1a"/>
<circle cx="308.69" cy="221.32" r="1.75" fill="#ff1a1a"/>
<circle cx="313.09" cy="214.39" r="1.75" fill="#ff1a1a"/>
<circle cx="317.49" cy="211.69" r="1.75" fill="#ff1a1a"/>
<circle cx="321.88" cy="209.76" r="1.75" fill="#ff1a1a"/>
<circle cx="326.28" cy="208.32" r="1.75" fill="#ff1a1a"/>
<circle cx="330.67" cy="207.35" r="1.75" fill="#ff1a1a"/>
<circle cx="335.06" cy="206.29" r="1.75" fill="#ff1a1a"/>
<circle cx="339.46" cy="203.11" r="1.75" fill="#ff1a1a"/>
<circle cx="343.86" cy="202.73" r="1.75" fill="#ff1a1a"/>
<circle cx="348.25" cy="202.25" r="1.75" fill="#ff1a1a"/>
<circle cx="352.64" cy="201.76" r="1.75" fill="#ff1a1a"/>
<circle cx="357.04" cy="201.38" r="1.75" fill="#ff1a1a"/>
<circle cx="361.44" cy="201.76" r="1.75" fill="#ff1a1a"/>
<circle cx="365.83" cy="201.38" r="1.75" fill="#ff1a1a"/>
<circle cx="370.23" cy="201.28" r="1.75" fill="#ff1a1a"/>
<circle cx="374.62" cy="200.90" r="1.75" fill="#ff1a1a"/>
<circle cx="379.01" cy="200.61" r="1.75" fill="#ff1a1a"/>
<circle cx="383.41" cy="200.22" r="1.75" fill="#ff1a1a"/>
<circle cx="387.81" cy="199.45" r="1.75" fill="#ff1a1a"/>
<circle cx="392.20" cy="199.45" r="1.75" fill="#ff1a1a"/>
<circle cx="396.60" cy="199.16" r="1.75" fill="#ff1a1a"/>
<circle cx="400.99" cy="199.07" r="1.75" fill="#ff1a1a"/>
<circle cx="405.38" cy="199.05" r="1.75" fill="#ff1a1a"/>
<circle cx="409.78" cy="199.04" r="1.75" fill="#ff1a1a"/>
<circle cx="414.18" cy="199.02" r="1.75" fill="#ff1a1a"/>
<circle cx="418.57" cy="199.01" r="1.75" fill="#ff1a1a"/>
<circle cx="422.97" cy="199.00" r="1.75" fill="#ff1a1a"/>
<circle cx="427.36" cy="198.98" r="1.75" fill="#ff1a1a"/>
<circle cx="431.75" cy="198.97" r="1.75" fill="#ff1a1a"/>
<circle cx="436.15" cy="198.95" r="1.75" fill="#ff1a1a"/>
<circle cx="440.54" cy="198.94" r="1.75" fill="#ff1a1a"/>
<circle cx="444.94" cy="198.92" r="1.75" fill="#ff1a1a"/>
<circle cx="449.34" cy="198.91" r="1.75" fill="#ff1a1a"/>
<circle cx="453.73" cy="198.90" r="1.75" fill="#ff1a1a"/>
<circle cx="458.12" cy="198.88" r="1.75" fill="#ff1a1a"/>
<circle cx="462.52" cy="198.87" r="1.75" fill="#ff1a1a"/>
<circle cx="466.91" cy="198.85" r="1.75" fill="#ff1a1a"/>
<circle cx="471.31" cy="198.84" r="1.75" fill="#ff1a1a"/>
<circle cx="475.70" cy="198.82" r="1.75" fill="#ff1a1a"/>
<circle cx="480.10" cy="198.81" r="1.75" fill="#ff1a1a"/>
<circle cx="484.50" cy="198.80" r="1.75" fill="#ff1a1a"/>
<circle cx="488.89" cy="198.78" r="1.75" fill="#ff1a1a"/>
<circle cx="493.28" cy="198.77" r="1.75" fill="#ff1a1a"/>
<circle cx="497.68" cy="198.75" r="1.75" fill="#ff1a1a"/>
<circle cx="502.07" cy="198.74" r="1.75" fill="#ff1a1a"/>
<circle cx="506.47" cy="198.72" r="1.75" fill="#ff1a1a"/>
<circle cx="510.87" cy="198.71" r="1.75" fill="#ff1a1a"/>
<circle cx="515.26" cy="198.70" r="1.75" fill="#ff1a1a"/>
<circle cx="519.65" cy="198.68" r="1.75" fill="#ff1a1a"/>
<polyline points="304.30,234.72 308.69,214.77 313.09,208.70 317.49,206.87 321.88,204.37 326.28,204.94 330.67,204.94 335.06,204.37 339.46,202.44 343.86,204.37 348.25,203.50 352.64,202.73 357.04,202.44 361.44,204.94 365.83,201.38 370.23,202.05 374.62,203.60 379.01,203.60 383.41,203.21 387.81,202.73 392.20,202.05 396.60,201.67 400.99,201.86 405.38,201.86 409.78,201.86 414.18,202.54 418.57,201.86 422.97,201.82 427.36,201.78 431.75,201.74 436.15,201.70 440.54,201.65 444.94,201.61 449.34,201.57 453.73,201.55 458.12,201.53 462.52,201.51 466.91,201.50 471.31,201.48 475.70,202.25 480.10,201.48 484.50,201.44 488.89,201.40 493.28,201.36 497.68,201.32 502.07,201.28 506.47,202.05 510.87,201.28 515.26,201.09 519.65,200.90" fill="none" stroke="#0a800a" stroke-width="0.85"/>
<circle cx="304.30" cy="234.72" r="1.75" fill="#0a800a"/>
<circle cx="308.69" cy="214.77" r="1.75" fill="#0a800a"/>
<circle cx="313.09" cy="208.70" r="1.75" fill="#0a800a"/>
<circle cx="317.49" cy="206.87" r="1.75" fill="#0a800a"/>
<circle cx="321.88" cy="204.37" r="1.75" fill="#0a800a"/>
<circle cx="326.28" cy="204.94" r="1.75" fill="#0a800a"/>
<circle cx="330.67" cy="204.94" r="1.75" fill="#0a800a"/>
<circle cx="335.06" cy="204.37" r="1.75" fill="#0a800a"/>
<circle cx="339.46" cy="202.44" r="1.75" fill="#0a800a"/>
<circle cx="343.86" cy="204.37" r="1.75" fill="#0a800a"/>
<circle cx="348.25" cy="203.50" r="1.75" fill="#0a800a"/>
<circle cx="352.64" cy="202.73" r="1.75" fill="#0a800a"/>
<circle cx="357.04" cy="202.44" r="1.75" fill="#0a800a"/>
<circle cx="361.44" cy="204.94" r="1.75" fill="#0a800a"/>
<circle cx="365.83" cy="201.38" r="1.75" fill="#0a800a"/>
<circle cx="370.23" cy="202.05" r="1.75" fill="#0a800a"/>
<circle cx="374.62" cy="203.60" r="1.75" fill="#0a800a"/>
<circle cx="379.01" cy="203.60" r="1.75" fill="#0a800a"/>
<circle cx="383.41" cy="203.21" r="1.75" fill="#0a800a"/>
<circle cx="387.81" cy="202.73" r="1.75" fill="#0a800a"/>
<circle cx="392.20" cy="202.05" r="1.75" fill="#0a800a"/>
<circle cx="396.60" cy="201.67" r="1.75" fill="#0a800a"/>
<circle cx="400.99" cy="201.86" r="1.75" fill="#0a800a"/>
<circle cx="405.38" cy="201.86" r="1.75" fill="#0a800a"/>
<circle cx="409.78" cy="201.86" r="1.75" fill="#0a800a"/>
<circle cx="414.18" cy="202.54" r="1.75" fill="#0a800a"/>
<circle cx="418.57" cy="201.86" r="1.75" fill="#0a800a"/>
<circle cx="422.97" cy="201.82" r="1.75" fill="#0a800a"/>
<circle cx="427.36" cy="201.78" r="1.75" fill="#0a800a"/>
<circle cx="431.75" cy="201.74" r="1.75" fill="#0a800a"/>
<circle cx="436.15" cy="201.70" r="1.75" fill="#0a800a"/>
<circle cx="440.54" cy="201.65" r="1.75" fill="#0a800a"/>
<circle cx="444.94" cy="201.61" r="1.75" fill="#0a800a"/>
<circle cx="449.34" cy="201.57" r="1.75" fill="#0a800a"/>
<circle cx="453.73" cy="201.55" r="1.75" fill="#0a800a"/>
<circle cx="458.12" cy="201.53" r="1.75" fill="#0a800a"/>
<circle cx="462.52" cy="201.51" r="1.75" fill="#0a800a"/>
<circle cx="466.91" cy="201.50" r="1.75" fill="#0a800a"/>
<circle cx="471.31" cy="201.48" r="1.75" fill="#0a800a"/>
<circle cx="475.70" cy="202.25" r="1.75" fill="#0a800a"/>
<circle cx="480.10" cy="201.48" r="1.75" fill="#0a800a"/>
<circle cx="484.50" cy="201.44" r="1.75" fill="#0a800a"/>
<circle cx="488.89" cy="201.40" r="1.75" fill="#0a800a"/>
<circle cx="493.28" cy="201.36" r="1.75" fill="#0a800a"/>
<circle cx="497.68" cy="201.32" r="1.75" fill="#0a800a"/>
<circle cx="502.07" cy="201.28" r="1.75" fill="#0a800a"/>
<circle cx="506.47" cy="202.05" r="1.75" fill="#0a800a"/>
<circle cx="510.87" cy="201.28" r="1.75" fill="#0a800a"/>
<circle cx="515.26" cy="201.09" r="1.75" fill="#0a800a"/>
<circle cx="519.65" cy="200.90" r="1.75" fill="#0a800a"/>
<rect x="296.80" y="194.90" width="34.00" height="17.50" fill="#fff" fill-opacity="0.85" stroke="#f0f0f0" stroke-width="0.5" rx="1"/>
<line x1="298.30" y1="200.10" x2="311.00" y2="200.10" stroke="#ff1a1a" stroke-width="1.0"/>
<circle cx="304.65" cy="200.10" r="1.75" fill="#ff1a1a"/>
<text x="315.50" y="202.10" font-size="5.7" class="t">train</text>
<line x1="298.30" y1="208.80" x2="311.00" y2="208.80" stroke="#0a800a" stroke-width="1.0"/>
<circle cx="304.65" cy="208.80" r="1.75" fill="#0a800a"/>
<text x="315.50" y="210.80" font-size="5.7" class="t">test</text>
<line x1="292.20" y1="313.82" x2="293.50" y2="313.82" stroke="#b0b0b0" stroke-width="0.6"/>
<line x1="292.20" y1="294.55" x2="293.50" y2="294.55" stroke="#b0b0b0" stroke-width="0.6"/>
<line x1="292.20" y1="275.28" x2="293.50" y2="275.28" stroke="#b0b0b0" stroke-width="0.6"/>
<line x1="292.20" y1="256.01" x2="293.50" y2="256.01" stroke="#b0b0b0" stroke-width="0.6"/>
<line x1="292.20" y1="236.74" x2="293.50" y2="236.74" stroke="#b0b0b0" stroke-width="0.6"/>
<line x1="292.20" y1="217.47" x2="293.50" y2="217.47" stroke="#b0b0b0" stroke-width="0.6"/>
<line x1="292.20" y1="198.20" x2="293.50" y2="198.20" stroke="#b0b0b0" stroke-width="0.6"/>
<line x1="304.30" y1="330.00" x2="304.30" y2="331.30" stroke="#b0b0b0" stroke-width="0.6"/>
<line x1="348.25" y1="330.00" x2="348.25" y2="331.30" stroke="#b0b0b0" stroke-width="0.6"/>
<line x1="392.20" y1="330.00" x2="392.20" y2="331.30" stroke="#b0b0b0" stroke-width="0.6"/>
<line x1="436.15" y1="330.00" x2="436.15" y2="331.30" stroke="#b0b0b0" stroke-width="0.6"/>
<line x1="480.10" y1="330.00" x2="480.10" y2="331.30" stroke="#b0b0b0" stroke-width="0.6"/>
<line x1="524.05" y1="330.00" x2="524.05" y2="331.30" stroke="#b0b0b0" stroke-width="0.6"/>
<text x="291.80" y="315.84" font-size="5.6" text-anchor="end" class="t">0.88</text>
<text x="291.80" y="296.57" font-size="5.6" text-anchor="end" class="t">0.90</text>
<text x="291.80" y="277.30" font-size="5.6" text-anchor="end" class="t">0.92</text>
<text x="291.80" y="258.03" font-size="5.6" text-anchor="end" class="t">0.94</text>
<text x="291.80" y="238.76" font-size="5.6" text-anchor="end" class="t">0.96</text>
<text x="291.80" y="219.49" font-size="5.6" text-anchor="end" class="t">0.98</text>
<text x="291.80" y="200.22" font-size="5.6" text-anchor="end" class="t">1.00</text>
<text x="304.30" y="336.62" font-size="5.6" text-anchor="middle" class="t">0</text>
<text x="348.25" y="336.62" font-size="5.6" text-anchor="middle" class="t">10</text>
<text x="392.20" y="336.62" font-size="5.6" text-anchor="middle" class="t">20</text>
<text x="436.15" y="336.62" font-size="5.6" text-anchor="middle" class="t">30</text>
<text x="480.10" y="336.62" font-size="5.6" text-anchor="middle" class="t">40</text>
<text x="524.05" y="336.62" font-size="5.6" text-anchor="middle" class="t">50</text>
<text x="412.00" y="190.70" font-size="5.86" text-anchor="middle" class="t">model accuracy</text>
<text x="412.00" y="342.70" font-size="5.6" text-anchor="middle" class="t">Epoch</text>
<text x="0" y="0" font-size="5.7" text-anchor="middle" class="t" transform="translate(277.80,261.40) rotate(-90)">Accuracy</text>
<text x="403.50" y="364.30" font-size="11" text-anchor="middle" class="c">(<tspan font-weight="bold">d</tspan>)</text>
<line x1="23.40" y1="408.30" x2="246.20" y2="408.30" stroke="#d4d4d4" stroke-width="1.0"/>
<line x1="23.40" y1="431.80" x2="246.20" y2="431.80" stroke="#d4d4d4" stroke-width="1.0"/>
<line x1="198.90" y1="381.10" x2="198.90" y2="511.40" stroke="#dedede" stroke-width="1.0"/>
<line x1="74.85" y1="381.10" x2="74.85" y2="511.40" stroke="#f0f0f0" stroke-width="0.8"/>
<line x1="116.20" y1="381.10" x2="116.20" y2="511.40" stroke="#f0f0f0" stroke-width="0.8"/>
<line x1="23.40" y1="381.10" x2="246.20" y2="381.10" stroke="#8c8c8c" stroke-width="1.0"/>
<line x1="23.40" y1="381.10" x2="23.40" y2="511.40" stroke="#e6e6e6" stroke-width="0.8"/>
<line x1="246.20" y1="381.10" x2="246.20" y2="511.40" stroke="#f0f0f0" stroke-width="0.8"/>
<polyline points="33.50,505.59 37.63,427.19 41.77,414.08 45.91,407.60 50.04,403.60 54.17,400.92 58.31,398.90 62.45,397.02 66.58,395.89 70.72,395.00 74.85,393.73 78.98,392.98 83.12,392.98 87.25,392.79 91.39,392.18 95.53,391.71 99.66,391.19 103.80,391.19 107.93,390.72 112.06,390.11 116.20,389.69 120.33,389.69 124.47,389.22 128.60,389.22 132.74,388.18 136.88,388.09 141.01,388.08 145.14,388.06 149.28,388.05 153.41,388.04 157.55,388.02 161.69,388.01 165.82,388.00 169.95,388.47 174.09,388.47 178.22,388.00 182.36,388.00 186.50,388.47 190.63,388.00 194.76,388.00 198.90,388.00 203.03,388.00 207.17,388.47 211.30,388.00 215.44,387.97 219.57,387.95 223.71,387.93 227.84,387.90 231.98,387.88 236.11,387.85" fill="none" stroke="#ff1a1a" stroke-width="0.85"/>
<circle cx="33.50" cy="505.59" r="1.75" fill="#ff1a1a"/>
<circle cx="37.63" cy="427.19" r="1.75" fill="#ff1a1a"/>
<circle cx="41.77" cy="414.08" r="1.75" fill="#ff1a1a"/>
<circle cx="45.91" cy="407.60" r="1.75" fill="#ff1a1a"/>
<circle cx="50.04" cy="403.60" r="1.75" fill="#ff1a1a"/>
<circle cx="54.17" cy="400.92" r="1.75" fill="#ff1a1a"/>
<circle cx="58.31" cy="398.90" r="1.75" fill="#ff1a1a"/>
<circle cx="62.45" cy="397.02" r="1.75" fill="#ff1a1a"/>
<circle cx="66.58" cy="395.89" r="1.75" fill="#ff1a1a"/>
<circle cx="70.72" cy="395.00" r="1.75" fill="#ff1a1a"/>
<circle cx="74.85" cy="393.73" r="1.75" fill="#ff1a1a"/>
<circle cx="78.98" cy="392.98" r="1.75" fill="#ff1a1a"/>
<circle cx="83.12" cy="392.98" r="1.75" fill="#ff1a1a"/>
<circle cx="87.25" cy="392.79" r="1.75" fill="#ff1a1a"/>
<circle cx="91.39" cy="392.18" r="1.75" fill="#ff1a1a"/>
<circle cx="95.53" cy="391.71" r="1.75" fill="#ff1a1a"/>
<circle cx="99.66" cy="391.19" r="1.75" fill="#ff1a1a"/>
<circle cx="103.80" cy="391.19" r="1.75" fill="#ff1a1a"/>
<circle cx="107.93" cy="390.72" r="1.75" fill="#ff1a1a"/>
<circle cx="112.06" cy="390.11" r="1.75" fill="#ff1a1a"/>
<circle cx="116.20" cy="389.69" r="1.75" fill="#ff1a1a"/>
<circle cx="120.33" cy="389.69" r="1.75" fill="#ff1a1a"/>
<circle cx="124.47" cy="389.22" r="1.75" fill="#ff1a1a"/>
<circle cx="128.60" cy="389.22" r="1.75" fill="#ff1a1a"/>
<circle cx="132.74" cy="388.18" r="1.75" fill="#ff1a1a"/>
<circle cx="136.88" cy="388.09" r="1.75" fill="#ff1a1a"/>
<circle cx="141.01" cy="388.08" r="1.75" fill="#ff1a1a"/>
<circle cx="145.14" cy="388.06" r="1.75" fill="#ff1a1a"/>
<circle cx="149.28" cy="388.05" r="1.75" fill="#ff1a1a"/>
<circle cx="153.41" cy="388.04" r="1.75" fill="#ff1a1a"/>
<circle cx="157.55" cy="388.02" r="1.75" fill="#ff1a1a"/>
<circle cx="161.69" cy="388.01" r="1.75" fill="#ff1a1a"/>
<circle cx="165.82" cy="388.00" r="1.75" fill="#ff1a1a"/>
<circle cx="169.95" cy="388.47" r="1.75" fill="#ff1a1a"/>
<circle cx="174.09" cy="388.47" r="1.75" fill="#ff1a1a"/>
<circle cx="178.22" cy="388.00" r="1.75" fill="#ff1a1a"/>
<circle cx="182.36" cy="388.00" r="1.75" fill="#ff1a1a"/>
<circle cx="186.50" cy="388.47" r="1.75" fill="#ff1a1a"/>
<circle cx="190.63" cy="388.00" r="1.75" fill="#ff1a1a"/>
<circle cx="194.76" cy="388.00" r="1.75" fill="#ff1a1a"/>
<circle cx="198.90" cy="388.00" r="1.75" fill="#ff1a1a"/>
<circle cx="203.03" cy="388.00" r="1.75" fill="#ff1a1a"/>
<circle cx="207.17" cy="388.47" r="1.75" fill="#ff1a1a"/>
<circle cx="211.30" cy="388.00" r="1.75" fill="#ff1a1a"/>
<circle cx="215.44" cy="387.97" r="1.75" fill="#ff1a1a"/>
<circle cx="219.57" cy="387.95" r="1.75" fill="#ff1a1a"/>
<circle cx="223.71" cy="387.93" r="1.75" fill="#ff1a1a"/>
<circle cx="227.84" cy="387.90" r="1.75" fill="#ff1a1a"/>
<circle cx="231.98" cy="387.88" r="1.75" fill="#ff1a1a"/>
<circle cx="236.11" cy="387.85" r="1.75" fill="#ff1a1a"/>
<polyline points="33.50,418.50 37.63,404.54 41.77,399.84 45.91,396.69 50.04,394.29 54.17,393.73 58.31,392.98 62.45,392.41 66.58,391.52 70.72,391.10 74.85,390.20 78.98,392.60 83.12,391.10 87.25,389.78 91.39,391.19 95.53,390.44 99.66,388.61 103.80,389.69 107.93,388.61 112.06,391.19 116.20,388.18 120.33,387.48 124.47,387.48 128.60,387.81 132.74,388.18 136.88,387.62 141.01,387.62 145.14,387.63 149.28,387.63 153.41,387.64 157.55,387.64 161.69,387.64 165.82,387.65 169.95,387.65 174.09,387.66 178.22,387.66 182.36,387.66 186.50,387.67 190.63,387.67 194.76,387.67 198.90,387.68 203.03,387.68 207.17,387.69 211.30,387.69 215.44,387.69 219.57,387.70 223.71,387.70 227.84,387.71 231.98,387.71 236.11,387.71" fill="none" stroke="#0a800a" stroke-width="0.85"/>
<circle cx="33.50" cy="418.50" r="1.75" fill="#0a800a"/>
<circle cx="37.63" cy="404.54" r="1.75" fill="#0a800a"/>
<circle cx="41.77" cy="399.84" r="1.75" fill="#0a800a"/>
<circle cx="45.91" cy="396.69" r="1.75" fill="#0a800a"/>
<circle cx="50.04" cy="394.29" r="1.75" fill="#0a800a"/>
<circle cx="54.17" cy="393.73" r="1.75" fill="#0a800a"/>
<circle cx="58.31" cy="392.98" r="1.75" fill="#0a800a"/>
<circle cx="62.45" cy="392.41" r="1.75" fill="#0a800a"/>
<circle cx="66.58" cy="391.52" r="1.75" fill="#0a800a"/>
<circle cx="70.72" cy="391.10" r="1.75" fill="#0a800a"/>
<circle cx="74.85" cy="390.20" r="1.75" fill="#0a800a"/>
<circle cx="78.98" cy="392.60" r="1.75" fill="#0a800a"/>
<circle cx="83.12" cy="391.10" r="1.75" fill="#0a800a"/>
<circle cx="87.25" cy="389.78" r="1.75" fill="#0a800a"/>
<circle cx="91.39" cy="391.19" r="1.75" fill="#0a800a"/>
<circle cx="95.53" cy="390.44" r="1.75" fill="#0a800a"/>
<circle cx="99.66" cy="388.61" r="1.75" fill="#0a800a"/>
<circle cx="103.80" cy="389.69" r="1.75" fill="#0a800a"/>
<circle cx="107.93" cy="388.61" r="1.75" fill="#0a800a"/>
<circle cx="112.06" cy="391.19" r="1.75" fill="#0a800a"/>
<circle cx="116.20" cy="388.18" r="1.75" fill="#0a800a"/>
<circle cx="120.33" cy="387.48" r="1.75" fill="#0a800a"/>
<circle cx="124.47" cy="387.48" r="1.75" fill="#0a800a"/>
<circle cx="128.60" cy="387.81" r="1.75" fill="#0a800a"/>
<circle cx="132.74" cy="388.18" r="1.75" fill="#0a800a"/>
<circle cx="136.88" cy="387.62" r="1.75" fill="#0a800a"/>
<circle cx="141.01" cy="387.62" r="1.75" fill="#0a800a"/>
<circle cx="145.14" cy="387.63" r="1.75" fill="#0a800a"/>
<circle cx="149.28" cy="387.63" r="1.75" fill="#0a800a"/>
<circle cx="153.41" cy="387.64" r="1.75" fill="#0a800a"/>
<circle cx="157.55" cy="387.64" r="1.75" fill="#0a800a"/>
<circle cx="161.69" cy="387.64" r="1.75" fill="#0a800a"/>
<circle cx="165.82" cy="387.65" r="1.75" fill="#0a800a"/>
<circle cx="169.95" cy="387.65" r="1.75" fill="#0a800a"/>
<circle cx="174.09" cy="387.66" r="1.75" fill="#0a800a"/>
<circle cx="178.22" cy="387.66" r="1.75" fill="#0a800a"/>
<circle cx="182.36" cy="387.66" r="1.75" fill="#0a800a"/>
<circle cx="186.50" cy="387.67" r="1.75" fill="#0a800a"/>
<circle cx="190.63" cy="387.67" r="1.75" fill="#0a800a"/>
<circle cx="194.76" cy="387.67" r="1.75" fill="#0a800a"/>
<circle cx="198.90" cy="387.68" r="1.75" fill="#0a800a"/>
<circle cx="203.03" cy="387.68" r="1.75" fill="#0a800a"/>
<circle cx="207.17" cy="387.69" r="1.75" fill="#0a800a"/>
<circle cx="211.30" cy="387.69" r="1.75" fill="#0a800a"/>
<circle cx="215.44" cy="387.69" r="1.75" fill="#0a800a"/>
<circle cx="219.57" cy="387.70" r="1.75" fill="#0a800a"/>
<circle cx="223.71" cy="387.70" r="1.75" fill="#0a800a"/>
<circle cx="227.84" cy="387.71" r="1.75" fill="#0a800a"/>
<circle cx="231.98" cy="387.71" r="1.75" fill="#0a800a"/>
<circle cx="236.11" cy="387.71" r="1.75" fill="#0a800a"/>
<rect x="26.50" y="384.00" width="33.00" height="17.50" fill="#fff" fill-opacity="0.85" stroke="#f0f0f0" stroke-width="0.5" rx="1"/>
<line x1="28.00" y1="388.80" x2="40.00" y2="388.80" stroke="#ff1a1a" stroke-width="1.0"/>
<circle cx="34.00" cy="388.80" r="1.75" fill="#ff1a1a"/>
<text x="44.00" y="390.80" font-size="5.7" class="t">train</text>
<line x1="28.00" y1="397.00" x2="40.00" y2="397.00" stroke="#0a800a" stroke-width="1.0"/>
<circle cx="34.00" cy="397.00" r="1.75" fill="#0a800a"/>
<text x="44.00" y="399.00" font-size="5.7" class="t">test</text>
<line x1="22.10" y1="502.30" x2="23.40" y2="502.30" stroke="#b0b0b0" stroke-width="0.6"/>
<line x1="22.10" y1="478.80" x2="23.40" y2="478.80" stroke="#b0b0b0" stroke-width="0.6"/>
<line x1="22.10" y1="455.30" x2="23.40" y2="455.30" stroke="#b0b0b0" stroke-width="0.6"/>
<line x1="22.10" y1="431.80" x2="23.40" y2="431.80" stroke="#b0b0b0" stroke-width="0.6"/>
<line x1="22.10" y1="408.30" x2="23.40" y2="408.30" stroke="#b0b0b0" stroke-width="0.6"/>
<line x1="22.10" y1="384.80" x2="23.40" y2="384.80" stroke="#b0b0b0" stroke-width="0.6"/>
<line x1="33.50" y1="511.40" x2="33.50" y2="512.70" stroke="#b0b0b0" stroke-width="0.6"/>
<line x1="74.85" y1="511.40" x2="74.85" y2="512.70" stroke="#b0b0b0" stroke-width="0.6"/>
<line x1="116.20" y1="511.40" x2="116.20" y2="512.70" stroke="#b0b0b0" stroke-width="0.6"/>
<line x1="157.55" y1="511.40" x2="157.55" y2="512.70" stroke="#b0b0b0" stroke-width="0.6"/>
<line x1="198.90" y1="511.40" x2="198.90" y2="512.70" stroke="#b0b0b0" stroke-width="0.6"/>
<line x1="240.25" y1="511.40" x2="240.25" y2="512.70" stroke="#b0b0b0" stroke-width="0.6"/>
<text x="22.40" y="504.28" font-size="5.5" text-anchor="end" class="t">0.75</text>
<text x="22.40" y="480.78" font-size="5.5" text-anchor="end" class="t">0.80</text>
<text x="22.40" y="457.28" font-size="5.5" text-anchor="end" class="t">0.85</text>
<text x="22.40" y="433.78" font-size="5.5" text-anchor="end" class="t">0.90</text>
<text x="22.40" y="410.28" font-size="5.5" text-anchor="end" class="t">0.95</text>
<text x="22.40" y="386.78" font-size="5.5" text-anchor="end" class="t">1.00</text>
<text x="33.50" y="517.28" font-size="5.5" text-anchor="middle" class="t">0</text>
<text x="74.85" y="517.28" font-size="5.5" text-anchor="middle" class="t">10</text>
<text x="116.20" y="517.28" font-size="5.5" text-anchor="middle" class="t">20</text>
<text x="157.55" y="517.28" font-size="5.5" text-anchor="middle" class="t">30</text>
<text x="198.90" y="517.28" font-size="5.5" text-anchor="middle" class="t">40</text>
<text x="240.25" y="517.28" font-size="5.5" text-anchor="middle" class="t">50</text>
<text x="135.00" y="380.10" font-size="5.58" text-anchor="middle" class="t">model accuracy</text>
<text x="134.90" y="523.40" font-size="5.6" text-anchor="middle" class="t">Epoch</text>
<text x="0" y="0" font-size="5.7" text-anchor="middle" class="t" transform="translate(8.80,446.50) rotate(-90)">Accuracy</text>
<text x="125.80" y="545.40" font-size="11" text-anchor="middle" class="c">(<tspan font-weight="bold">e</tspan>)</text>
<line x1="291.40" y1="441.86" x2="524.60" y2="441.86" stroke="#dcdcdc" stroke-width="1.0"/>
<line x1="345.20" y1="378.10" x2="345.20" y2="514.60" stroke="#e3e3e3" stroke-width="1.0"/>
<line x1="388.40" y1="378.10" x2="388.40" y2="514.60" stroke="#e3e3e3" stroke-width="1.0"/>
<line x1="474.80" y1="378.10" x2="474.80" y2="514.60" stroke="#f0f0f0" stroke-width="0.8"/>
<line x1="518.00" y1="378.10" x2="518.00" y2="514.60" stroke="#f2f2f2" stroke-width="0.8"/>
<line x1="524.60" y1="378.10" x2="524.60" y2="514.60" stroke="#f0f0f0" stroke-width="0.8"/>
<line x1="291.40" y1="378.10" x2="524.60" y2="378.10" stroke="#d0d0d0" stroke-width="1.2"/>
<polyline points="302.00,508.43 306.32,464.40 310.64,444.72 314.96,429.89 319.28,418.79 323.60,410.49 327.92,405.72 332.24,402.04 336.56,399.51 340.88,397.51 345.20,395.61 349.52,394.28 353.84,393.61 358.16,392.71 362.48,391.89 366.80,390.89 371.12,390.65 375.44,390.42 379.76,390.18 384.08,389.94 388.40,389.71 392.72,389.58 397.04,389.46 401.36,389.34 405.68,389.22 410.00,389.09 414.32,388.92 418.64,388.74 422.96,388.56 427.28,388.38 431.60,388.20 435.92,387.90 440.24,387.60 444.56,387.53 448.88,387.45 453.20,387.38 457.52,387.30 461.84,387.23 466.16,387.15 470.48,387.07 474.80,387.00 479.12,386.92 483.44,386.85 487.76,386.77 492.08,386.70 496.40,386.62 500.72,386.54 505.04,386.47 509.36,386.39 513.68,386.32" fill="none" stroke="#ff1a1a" stroke-width="0.85"/>
<circle cx="302.00" cy="508.43" r="1.75" fill="#ff1a1a"/>
<circle cx="306.32" cy="464.40" r="1.75" fill="#ff1a1a"/>
<circle cx="310.64" cy="444.72" r="1.75" fill="#ff1a1a"/>
<circle cx="314.96" cy="429.89" r="1.75" fill="#ff1a1a"/>
<circle cx="319.28" cy="418.79" r="1.75" fill="#ff1a1a"/>
<circle cx="323.60" cy="410.49" r="1.75" fill="#ff1a1a"/>
<circle cx="327.92" cy="405.72" r="1.75" fill="#ff1a1a"/>
<circle cx="332.24" cy="402.04" r="1.75" fill="#ff1a1a"/>
<circle cx="336.56" cy="399.51" r="1.75" fill="#ff1a1a"/>
<circle cx="340.88" cy="397.51" r="1.75" fill="#ff1a1a"/>
<circle cx="345.20" cy="395.61" r="1.75" fill="#ff1a1a"/>
<circle cx="349.52" cy="394.28" r="1.75" fill="#ff1a1a"/>
<circle cx="353.84" cy="393.61" r="1.75" fill="#ff1a1a"/>
<circle cx="358.16" cy="392.71" r="1.75" fill="#ff1a1a"/>
<circle cx="362.48" cy="391.89" r="1.75" fill="#ff1a1a"/>
<circle cx="366.80" cy="390.89" r="1.75" fill="#ff1a1a"/>
<circle cx="371.12" cy="390.65" r="1.75" fill="#ff1a1a"/>
<circle cx="375.44" cy="390.42" r="1.75" fill="#ff1a1a"/>
<circle cx="379.76" cy="390.18" r="1.75" fill="#ff1a1a"/>
<circle cx="384.08" cy="389.94" r="1.75" fill="#ff1a1a"/>
<circle cx="388.40" cy="389.71" r="1.75" fill="#ff1a1a"/>
<circle cx="392.72" cy="389.58" r="1.75" fill="#ff1a1a"/>
<circle cx="397.04" cy="389.46" r="1.75" fill="#ff1a1a"/>
<circle cx="401.36" cy="389.34" r="1.75" fill="#ff1a1a"/>
<circle cx="405.68" cy="389.22" r="1.75" fill="#ff1a1a"/>
<circle cx="410.00" cy="389.09" r="1.75" fill="#ff1a1a"/>
<circle cx="414.32" cy="388.92" r="1.75" fill="#ff1a1a"/>
<circle cx="418.64" cy="388.74" r="1.75" fill="#ff1a1a"/>
<circle cx="422.96" cy="388.56" r="1.75" fill="#ff1a1a"/>
<circle cx="427.28" cy="388.38" r="1.75" fill="#ff1a1a"/>
<circle cx="431.60" cy="388.20" r="1.75" fill="#ff1a1a"/>
<circle cx="435.92" cy="387.90" r="1.75" fill="#ff1a1a"/>
<circle cx="440.24" cy="387.60" r="1.75" fill="#ff1a1a"/>
<circle cx="444.56" cy="387.53" r="1.75" fill="#ff1a1a"/>
<circle cx="448.88" cy="387.45" r="1.75" fill="#ff1a1a"/>
<circle cx="453.20" cy="387.38" r="1.75" fill="#ff1a1a"/>
<circle cx="457.52" cy="387.30" r="1.75" fill="#ff1a1a"/>
<circle cx="461.84" cy="387.23" r="1.75" fill="#ff1a1a"/>
<circle cx="466.16" cy="387.15" r="1.75" fill="#ff1a1a"/>
<circle cx="470.48" cy="387.07" r="1.75" fill="#ff1a1a"/>
<circle cx="474.80" cy="387.00" r="1.75" fill="#ff1a1a"/>
<circle cx="479.12" cy="386.92" r="1.75" fill="#ff1a1a"/>
<circle cx="483.44" cy="386.85" r="1.75" fill="#ff1a1a"/>
<circle cx="487.76" cy="386.77" r="1.75" fill="#ff1a1a"/>
<circle cx="492.08" cy="386.70" r="1.75" fill="#ff1a1a"/>
<circle cx="496.40" cy="386.62" r="1.75" fill="#ff1a1a"/>
<circle cx="500.72" cy="386.54" r="1.75" fill="#ff1a1a"/>
<circle cx="505.04" cy="386.47" r="1.75" fill="#ff1a1a"/>
<circle cx="509.36" cy="386.39" r="1.75" fill="#ff1a1a"/>
<circle cx="513.68" cy="386.32" r="1.75" fill="#ff1a1a"/>
<polyline points="302.00,459.30 306.32,435.59 310.64,417.56 314.96,405.72 319.28,399.90 323.60,396.61 327.92,394.28 332.24,392.30 336.56,389.99 340.88,388.99 345.20,388.99 349.52,388.60 353.84,388.40 358.16,388.40 362.48,387.50 366.80,387.20 371.12,387.04 375.44,386.88 379.76,386.72 384.08,386.56 388.40,386.40 392.72,386.34 397.04,386.28 401.36,386.23 405.68,386.17 410.00,386.11 414.32,385.93 418.64,385.75 422.96,385.56 427.28,385.38 431.60,385.19 435.92,385.04 440.24,384.89 444.56,384.84 448.88,384.79 453.20,384.75 457.52,384.70 461.84,384.65 466.16,384.61 470.48,384.56 474.80,384.51 479.12,384.47 483.44,384.42 487.76,384.37 492.08,384.33 496.40,384.28 500.72,384.23 505.04,384.19 509.36,384.14 513.68,384.09" fill="none" stroke="#0a800a" stroke-width="0.85"/>
<circle cx="302.00" cy="459.30" r="1.75" fill="#0a800a"/>
<circle cx="306.32" cy="435.59" r="1.75" fill="#0a800a"/>
<circle cx="310.64" cy="417.56" r="1.75" fill="#0a800a"/>
<circle cx="314.96" cy="405.72" r="1.75" fill="#0a800a"/>
<circle cx="319.28" cy="399.90" r="1.75" fill="#0a800a"/>
<circle cx="323.60" cy="396.61" r="1.75" fill="#0a800a"/>
<circle cx="327.92" cy="394.28" r="1.75" fill="#0a800a"/>
<circle cx="332.24" cy="392.30" r="1.75" fill="#0a800a"/>
<circle cx="336.56" cy="389.99" r="1.75" fill="#0a800a"/>
<circle cx="340.88" cy="388.99" r="1.75" fill="#0a800a"/>
<circle cx="345.20" cy="388.99" r="1.75" fill="#0a800a"/>
<circle cx="349.52" cy="388.60" r="1.75" fill="#0a800a"/>
<circle cx="353.84" cy="388.40" r="1.75" fill="#0a800a"/>
<circle cx="358.16" cy="388.40" r="1.75" fill="#0a800a"/>
<circle cx="362.48" cy="387.50" r="1.75" fill="#0a800a"/>
<circle cx="366.80" cy="387.20" r="1.75" fill="#0a800a"/>
<circle cx="371.12" cy="387.04" r="1.75" fill="#0a800a"/>
<circle cx="375.44" cy="386.88" r="1.75" fill="#0a800a"/>
<circle cx="379.76" cy="386.72" r="1.75" fill="#0a800a"/>
<circle cx="384.08" cy="386.56" r="1.75" fill="#0a800a"/>
<circle cx="388.40" cy="386.40" r="1.75" fill="#0a800a"/>
<circle cx="392.72" cy="386.34" r="1.75" fill="#0a800a"/>
<circle cx="397.04" cy="386.28" r="1.75" fill="#0a800a"/>
<circle cx="401.36" cy="386.23" r="1.75" fill="#0a800a"/>
<circle cx="405.68" cy="386.17" r="1.75" fill="#0a800a"/>
<circle cx="410.00" cy="386.11" r="1.75" fill="#0a800a"/>
<circle cx="414.32" cy="385.93" r="1.75" fill="#0a800a"/>
<circle cx="418.64" cy="385.75" r="1.75" fill="#0a800a"/>
<circle cx="422.96" cy="385.56" r="1.75" fill="#0a800a"/>
<circle cx="427.28" cy="385.38" r="1.75" fill="#0a800a"/>
<circle cx="431.60" cy="385.19" r="1.75" fill="#0a800a"/>
<circle cx="435.92" cy="385.04" r="1.75" fill="#0a800a"/>
<circle cx="440.24" cy="384.89" r="1.75" fill="#0a800a"/>
<circle cx="444.56" cy="384.84" r="1.75" fill="#0a800a"/>
<circle cx="448.88" cy="384.79" r="1.75" fill="#0a800a"/>
<circle cx="453.20" cy="384.75" r="1.75" fill="#0a800a"/>
<circle cx="457.52" cy="384.70" r="1.75" fill="#0a800a"/>
<circle cx="461.84" cy="384.65" r="1.75" fill="#0a800a"/>
<circle cx="466.16" cy="384.61" r="1.75" fill="#0a800a"/>
<circle cx="470.48" cy="384.56" r="1.75" fill="#0a800a"/>
<circle cx="474.80" cy="384.51" r="1.75" fill="#0a800a"/>
<circle cx="479.12" cy="384.47" r="1.75" fill="#0a800a"/>
<circle cx="483.44" cy="384.42" r="1.75" fill="#0a800a"/>
<circle cx="487.76" cy="384.37" r="1.75" fill="#0a800a"/>
<circle cx="492.08" cy="384.33" r="1.75" fill="#0a800a"/>
<circle cx="496.40" cy="384.28" r="1.75" fill="#0a800a"/>
<circle cx="500.72" cy="384.23" r="1.75" fill="#0a800a"/>
<circle cx="505.04" cy="384.19" r="1.75" fill="#0a800a"/>
<circle cx="509.36" cy="384.14" r="1.75" fill="#0a800a"/>
<circle cx="513.68" cy="384.09" r="1.75" fill="#0a800a"/>
<rect x="294.60" y="381.00" width="34.00" height="17.50" fill="#fff" fill-opacity="0.85" stroke="#f0f0f0" stroke-width="0.5" rx="1"/>
<line x1="296.50" y1="385.60" x2="309.00" y2="385.60" stroke="#ff1a1a" stroke-width="1.0"/>
<circle cx="302.75" cy="385.60" r="1.75" fill="#ff1a1a"/>
<text x="313.20" y="387.60" font-size="5.7" class="t">train</text>
<line x1="296.50" y1="394.00" x2="309.00" y2="394.00" stroke="#0a800a" stroke-width="1.0"/>
<circle cx="302.75" cy="394.00" r="1.75" fill="#0a800a"/>
<text x="313.20" y="396.00" font-size="5.7" class="t">test</text>
<line x1="290.10" y1="503.12" x2="291.40" y2="503.12" stroke="#b0b0b0" stroke-width="0.6"/>
<line x1="290.10" y1="482.70" x2="291.40" y2="482.70" stroke="#b0b0b0" stroke-width="0.6"/>
<line x1="290.10" y1="462.28" x2="291.40" y2="462.28" stroke="#b0b0b0" stroke-width="0.6"/>
<line x1="290.10" y1="441.86" x2="291.40" y2="441.86" stroke="#b0b0b0" stroke-width="0.6"/>
<line x1="290.10" y1="421.44" x2="291.40" y2="421.44" stroke="#b0b0b0" stroke-width="0.6"/>
<line x1="290.10" y1="401.02" x2="291.40" y2="401.02" stroke="#b0b0b0" stroke-width="0.6"/>
<line x1="290.10" y1="380.60" x2="291.40" y2="380.60" stroke="#b0b0b0" stroke-width="0.6"/>
<line x1="302.00" y1="514.60" x2="302.00" y2="515.90" stroke="#b0b0b0" stroke-width="0.6"/>
<line x1="345.20" y1="514.60" x2="345.20" y2="515.90" stroke="#b0b0b0" stroke-width="0.6"/>
<line x1="388.40" y1="514.60" x2="388.40" y2="515.90" stroke="#b0b0b0" stroke-width="0.6"/>
<line x1="431.60" y1="514.60" x2="431.60" y2="515.90" stroke="#b0b0b0" stroke-width="0.6"/>
<line x1="474.80" y1="514.60" x2="474.80" y2="515.90" stroke="#b0b0b0" stroke-width="0.6"/>
<line x1="518.00" y1="514.60" x2="518.00" y2="515.90" stroke="#b0b0b0" stroke-width="0.6"/>
<text x="290.00" y="505.14" font-size="5.6" text-anchor="end" class="t">0.4</text>
<text x="290.00" y="484.72" font-size="5.6" text-anchor="end" class="t">0.5</text>
<text x="290.00" y="464.30" font-size="5.6" text-anchor="end" class="t">0.6</text>
<text x="290.00" y="443.88" font-size="5.6" text-anchor="end" class="t">0.7</text>
<text x="290.00" y="423.46" font-size="5.6" text-anchor="end" class="t">0.8</text>
<text x="290.00" y="403.04" font-size="5.6" text-anchor="end" class="t">0.9</text>
<text x="290.00" y="382.62" font-size="5.6" text-anchor="end" class="t">1.0</text>
<text x="302.00" y="520.12" font-size="5.6" text-anchor="middle" class="t">0</text>
<text x="345.20" y="520.12" font-size="5.6" text-anchor="middle" class="t">10</text>
<text x="388.40" y="520.12" font-size="5.6" text-anchor="middle" class="t">20</text>
<text x="431.60" y="520.12" font-size="5.6" text-anchor="middle" class="t">30</text>
<text x="474.80" y="520.12" font-size="5.6" text-anchor="middle" class="t">40</text>
<text x="518.00" y="520.12" font-size="5.6" text-anchor="middle" class="t">50</text>
<text x="408.00" y="376.40" font-size="5.8" text-anchor="middle" class="t">model accuracy</text>
<text x="408.30" y="526.60" font-size="5.6" text-anchor="middle" class="t">Epoch</text>
<text x="0" y="0" font-size="5.7" text-anchor="middle" class="t" transform="translate(279.40,445.90) rotate(-90)">Accuracy</text>
<text x="403.60" y="544.90" font-size="11" text-anchor="middle" class="c">(<tspan font-weight="bold">f</tspan>)</text>
</svg>
</body></html>
